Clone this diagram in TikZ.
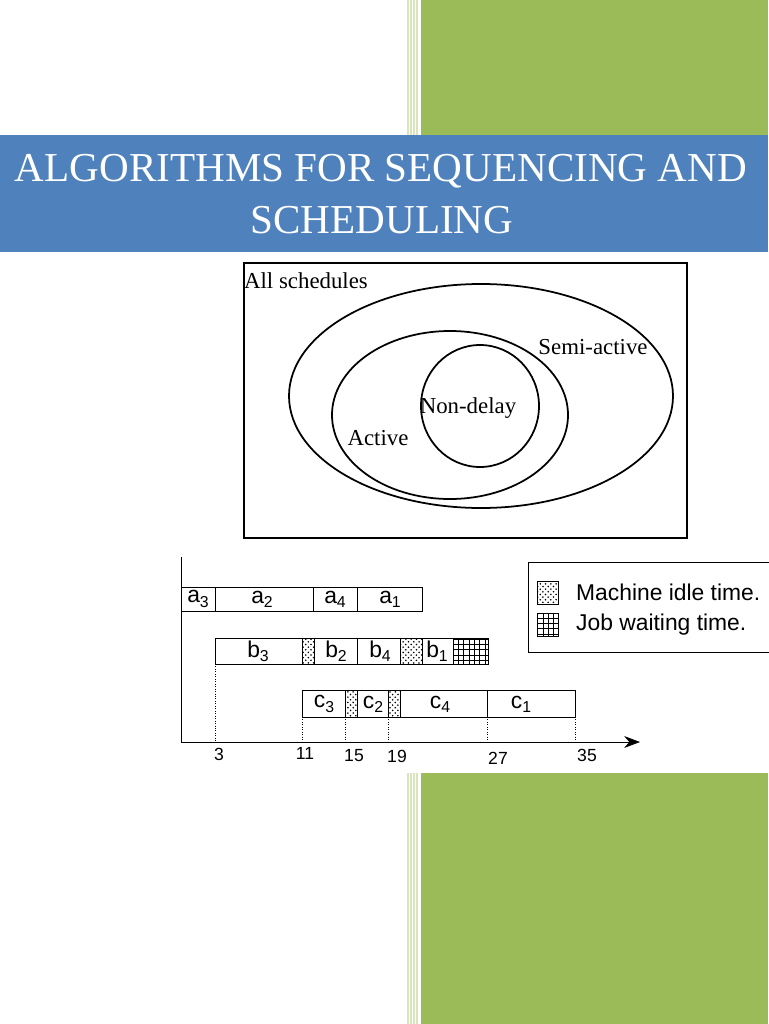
\documentclass[tikz,border=0pt]{standalone}
\usepackage{fontspec}
\setmainfont{Liberation Serif}
\newfontfamily\gantfont{Liberation Sans}
\usetikzlibrary{patterns,arrows.meta}
\definecolor{bandblue}{HTML}{4F81BD}
\definecolor{bandgreen}{HTML}{9BBB59}
\newcommand{\jobsub}[1]{\raisebox{-0.35ex}{\fontsize{9}{9}\selectfont #1}}
\tikzset{
  idle/.style={draw, pattern=crosshatch dots},
  wait/.style={draw, pattern=grid},
  job/.style={font=\gantfont\fontsize{13}{13}\selectfont},
  tick/.style={font=\gantfont\fontsize{10}{10}\selectfont},
  venn/.style={font=\fontsize{13}{13}\selectfont}
}
\begin{document}
\begin{tikzpicture}[x=0.02cm,y=-0.02cm]
    \useasboundingbox (0,0) rectangle (768,1024);
    % bands
    \fill[bandgreen] (421,0) rectangle (768,135);
    \fill[bandgreen] (421,773) rectangle (768,1024);
    \foreach \x in {408,411,414,417} {
        \draw[bandgreen!40, line width=0.6pt] (\x,0) -- (\x,135);
        \draw[bandgreen!40, line width=0.6pt] (\x,773) -- (\x,1024);
    }
    \fill[bandblue] (0,135) rectangle (768,252);
    \node[white, font=\fontsize{23.4}{23.4}\selectfont] (title1) at (381,171) {ALGORITHMS FOR SEQUENCING AND};
    \node[white, font=\fontsize{23.4}{23.4}\selectfont] (title2) at (382,220) {SCHEDULING};

    % venn
    \draw[line width=1.2pt] (244,263) rectangle (687,538);
    \draw[line width=1pt] (481,396) ellipse [x radius=192, y radius=112];
    \draw[line width=1pt] (450,415) ellipse [x radius=118, y radius=84];
    \draw[line width=1pt] (480,406) ellipse [x radius=59, y radius=61];
    \node[venn] (all) at (306,281) {All schedules};
    \node[venn] (semi) at (593,347) {Semi-active};
    \node[venn] (nond) at (468,408) {Non-delay};
    \node[venn] (act) at (378,438) {Active};

    % gantt
    \draw (181,557) -- (181,742);
    \draw[-{Stealth[length=9pt]}] (181,742) -- (640,742);
    \draw (181,587) rectangle (422,611);
    \foreach \x in {215,313,357} \draw (\x,587) -- (\x,611);
    \node[job] (a3) at (198,599) {a\jobsub{3}};
    \node[job] (a2) at (262,599) {a\jobsub{2}};
    \node[job] (a4) at (335,599) {a\jobsub{4}};
    \node[job] (a1) at (390,599) {a\jobsub{1}};

    \draw (215,638) rectangle (488,664);
    \draw[idle] (302,638) rectangle (314,664);
    \draw[idle] (400,638) rectangle (422,664);
    \draw[wait] (453,638) rectangle (488,664);
    \draw (357,638) -- (357,664);
    \node[job] (b3) at (258,651) {b\jobsub{3}};
    \node[job] (b2) at (336,651) {b\jobsub{2}};
    \node[job] (b4) at (380,651) {b\jobsub{4}};
    \node[job] (b1) at (437,651) {b\jobsub{1}};

    \draw (302,690) rectangle (575,717);
    \draw[idle] (345,690) rectangle (357,717);
    \draw[idle] (388,690) rectangle (400,717);
    \draw (487,690) -- (487,717);
    \node[job] (c3) at (324,704) {c\jobsub{3}};
    \node[job] (c2) at (373,704) {c\jobsub{2}};
    \node[job] (c4) at (440,704) {c\jobsub{4}};
    \node[job] (c1) at (521,704) {c\jobsub{1}};

    \draw[densely dotted] (215,664) -- (215,742);
    \foreach \x in {302,345,388,487,575} \draw[densely dotted] (\x,717) -- (\x,742);
    \node[tick] (t3) at (219,754) {3};
    \node[tick] (t11) at (305,753) {11};
    \node[tick] (t15) at (354,756) {15};
    \node[tick] (t19) at (397,756) {19};
    \node[tick] (t27) at (498,758) {27};
    \node[tick] (t35) at (587,755) {35};

    % legend
    \draw (528,562) rectangle (770,652);
    \draw[idle] (537,581) rectangle (558,604);
    \draw[wait] (537,613) rectangle (558,636);
    \node[job, anchor=west] (lidle) at (570,592) {Machine idle time.};
    \node[job, anchor=west] (lwait) at (570,625) {Job waiting time.};
\end{tikzpicture}
\end{document}
